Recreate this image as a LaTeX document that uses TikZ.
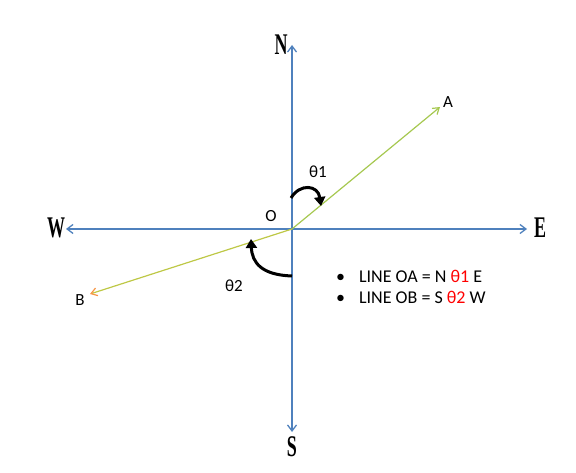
\documentclass[tikz,border=0pt]{standalone}
\usepackage{fontspec}
\setmainfont{Carlito}
\newfontfamily\dirfont{Liberation Serif}
\usepackage{tikz}
\usetikzlibrary{arrows.meta}
\definecolor{axisblue}{RGB}{79,129,189}
\definecolor{raygreen}{RGB}{166,200,80}
\definecolor{rayolive}{RGB}{190,200,70}
\definecolor{tiporange}{RGB}{247,150,70}

\begin{document}
\begin{tikzpicture}[x=1pt, y=-1pt]
		\tikzstyle{Axis}	= [draw=axisblue, line width=1.3pt, -{Straight Barb[length=6pt, width=9pt]}]
		\tikzstyle{Ray}		= [draw=raygreen, line width=1.2pt, -{Straight Barb[length=6pt, width=8pt]}]
		\tikzstyle{Turn}	= [draw=black, line width=3pt, -{Triangle[length=9pt, width=11pt]}]
		\tikzstyle{Dir}		= [font=\dirfont\bfseries\fontsize{30}{30}\selectfont, xscale=0.6, inner sep=0pt]
		\tikzstyle{Lbl}		= [font=\fontsize{17}{17}\selectfont, inner sep=0pt]
		\tikzstyle{Item}	= [font=\fontsize{18}{18}\selectfont, inner sep=0pt, anchor=west]

		\useasboundingbox (0, 0) rectangle (576, 473);

		\coordinate (o) at (292, 229);
		\coordinate (n) at (292, 45);
		\coordinate (s) at (292, 432);
		\coordinate (w) at (66, 229);
		\coordinate (e) at (527, 229);
		\coordinate (a) at (440, 107);
		\coordinate (b) at (90, 294);

		\node (lN) at (281, 45) [Dir] {N};
		\node (lS) at (292, 447) [Dir] {S};
		\node (lW) at (56, 228) [Dir] {W};
		\node (lE) at (540, 228) [Dir] {E};
		\node (lA) at (448, 102) [Lbl] {A};
		\node (lB) at (80, 300) [Lbl] {B};
		\node (lO) at (271, 216) [Lbl] {O};
		\node (t1) at (318, 172) [Lbl] {θ1};
		\node (t2) at (234, 286) [Lbl] {θ2};

		% compass axes
		\draw (o) to (n) [Axis];
		\draw (o) to (s) [Axis];
		\draw (o) to (w) [Axis];
		\draw (o) to (e) [Axis];

		% the two lines
		\draw (o) to (a) [Ray];
		\draw (o) to (b) [Ray, draw=rayolive, -{Straight Barb[length=6pt, width=8pt, color=tiporange]}];

		% angles
		\draw (291, 198) .. controls (300, 183) and (318, 185) .. (321, 206) [Turn];
		\draw (292, 276) .. controls (262, 275) and (252, 263) .. (251, 239) [Turn];

		\node (i1) at (336, 276) [Item] {•\hspace{14pt}LINE OA = N \textcolor{red}{θ1} E};
		\node (i2) at (336, 297) [Item] {•\hspace{14pt}LINE OB = S \textcolor{red}{θ2} W};
	\end{tikzpicture}
\end{document}
